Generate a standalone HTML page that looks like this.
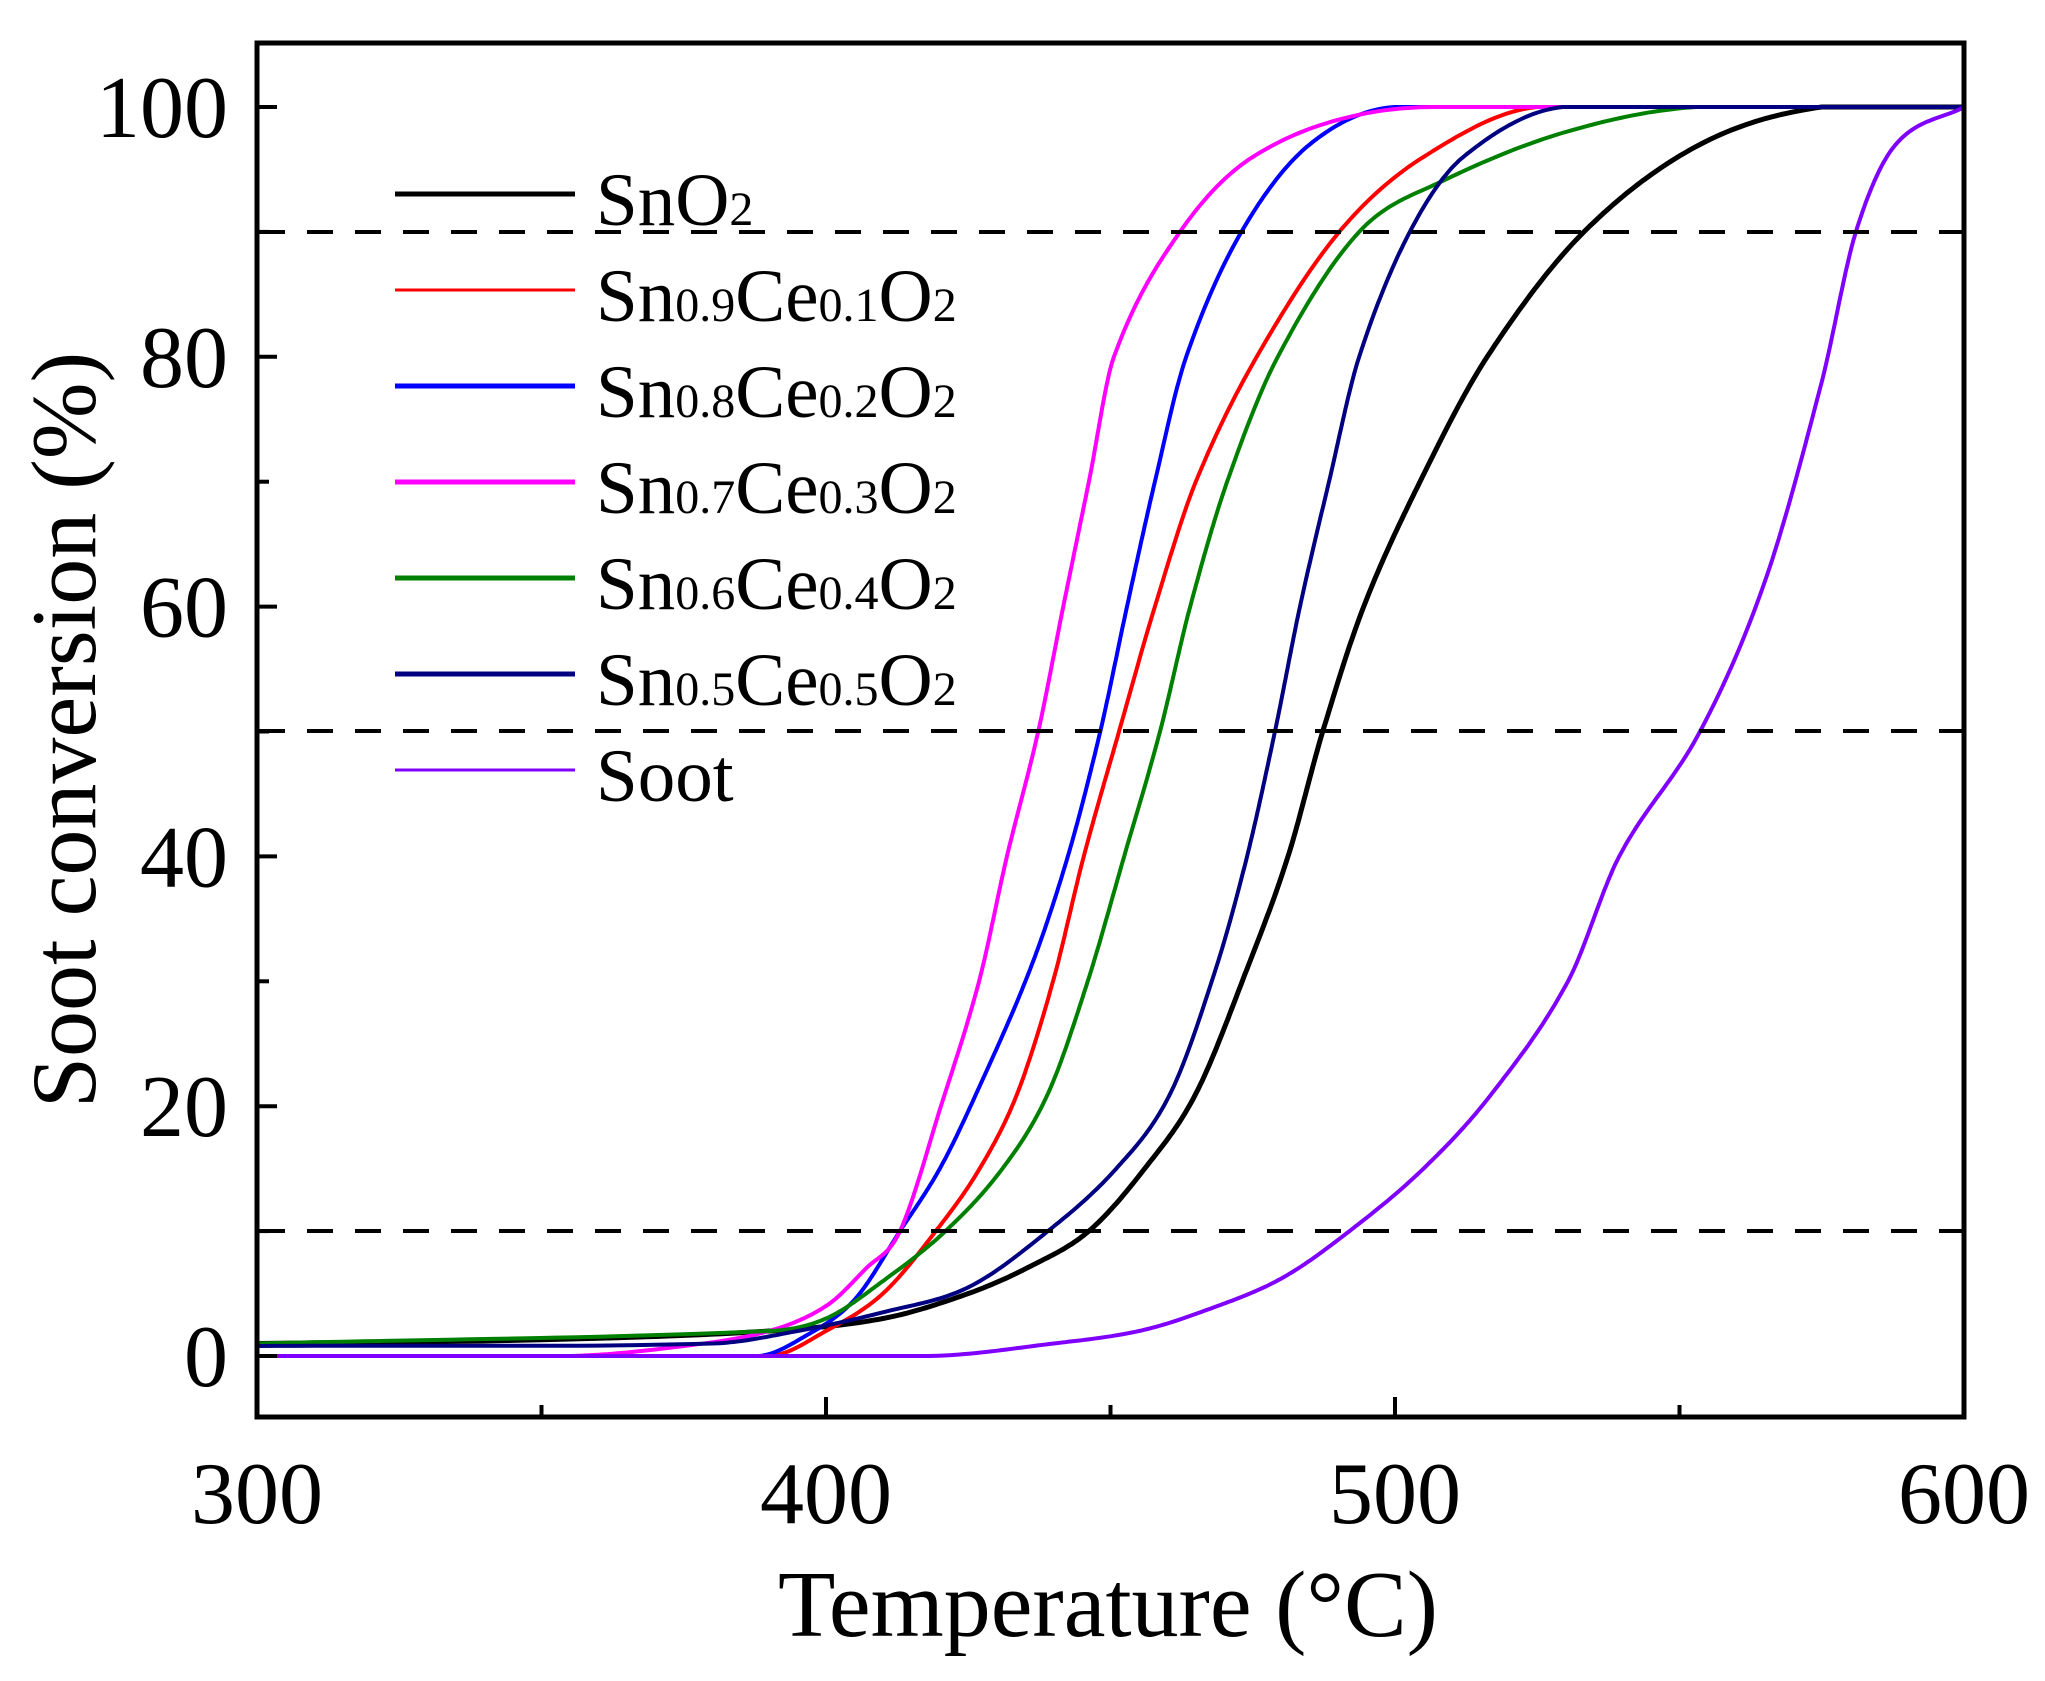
<!DOCTYPE html>
<html><head><meta charset="utf-8"><style>
html,body{margin:0;padding:0;background:#fff;}
svg{display:block;font-family:"Liberation Serif",serif;}
</style></head><body>
<svg id="s" width="2045" height="1681" viewBox="0 0 2045 1681" xmlns="http://www.w3.org/2000/svg">
<g id="curves"></g>
<g stroke="#000" stroke-width="4" stroke-dasharray="26 22" fill="none">
<line x1="259" y1="232" x2="1962" y2="232"/>
<line x1="259" y1="731" x2="1962" y2="731"/>
<line x1="259" y1="1231" x2="1962" y2="1231"/>
</g>
<rect x="257" y="43" width="1707" height="1374" fill="none" stroke="#000" stroke-width="5"/>
<g id="ticks" stroke="#000" stroke-width="4"></g>
<g font-size="88" fill="#000" text-anchor="end" id="ylab"></g>
<g font-size="88" fill="#000" text-anchor="middle" id="xlab"></g>
<text x="1108" y="1636" font-size="94" text-anchor="middle">Temperature (°C)</text>
<text transform="translate(95,730) rotate(-90)" font-size="92" text-anchor="middle">Soot conversion (%)</text>
<g id="leg" font-size="75"></g>
</svg>
<script>
const X=t=>257+(t-300)*1707/300, Y=v=>1356-v*12.49;
const NS="http://www.w3.org/2000/svg";
function el(p,n,a,txt){const e=document.createElementNS(NS,n);for(const k in a)e.setAttribute(k,a[k]);if(txt!=null)e.textContent=txt;p.appendChild(e);return e;}
function sp(pts){const n=pts.length,xs=pts.map(p=>p[0]),ys=pts.map(p=>p[1]);const m=[];
for(let i=0;i<n;i++){const a=Math.max(0,i-1),b=Math.min(n-1,i+1);m[i]=(ys[b]-ys[a])/(xs[b]-xs[a]);}
let s="";let lo=ys[0];
for(let i=0;i<n-1;i++){const h=xs[i+1]-xs[i];for(let k=0;k<=24;k++){const t=k/24,t2=t*t,t3=t2*t;
let v=(2*t3-3*t2+1)*ys[i]+(t3-2*t2+t)*h*m[i]+(-2*t3+3*t2)*ys[i+1]+(t3-t2)*h*m[i+1];
v=Math.max(lo,Math.min(100,v));lo=v;
s+=(s?"L":"M")+X(xs[i]+t*h).toFixed(1)+","+Y(v).toFixed(1);}}return s;}
const series=[
["#000",[[300,1],[350,1.3],[390,2],[410,3],[425,5],[436,7.2],[446.2,10],[456,15],[465,21],[474,31],[481.2,40],[487.3,50],[494.5,60],[504.4,70],[516.2,80],[533.2,90],[553.6,97],[575,100],[600,100]],5],
["#ff0000",[[300,0],[390,0],[400,2],[410,5],[419.3,10],[427,15],[433.6,21],[439.9,30],[445.3,40],[451.5,50],[457.8,60],[465,70],[475.7,80],[490.2,90],[505,96],[525,100],[600,100]],4],
["#0000ff",[[300,0],[388,0],[396,1.5],[405,4.5],[413,10],[420,15],[426.4,21],[435.9,31],[442.5,40],[448.2,50],[452.9,60],[457.8,70],[463.3,80],[473,90],[485,97],[500,100],[600,100]],4],
["#ff00ff",[[300,0],[355,0],[375,0.8],[390,2],[400,4],[407,7],[413,10],[420.2,20],[426.9,30],[431.8,40],[437.3,50],[441.7,60],[446.2,70],[450.6,80],[462.2,90],[475,96],[495,99.5],[520,100],[600,100]],4],
["#008000",[[300,1],[390,2],[400,3],[410,6],[421,10],[431,15],[439,21],[446,30],[452.4,40],[458.7,50],[464,60],[470.5,70],[479.4,80],[493.7,90],[508,94],[530,98],[553,100],[600,100]],4],
["#000080",[[300,0.8],[380,1],[395,2],[410,3.5],[425,5.5],[439,10],[451,15],[460.5,21],[468.5,31],[474,40],[478.9,50],[483.3,60],[488.4,70],[493.7,80],[502.6,90],[512,96],[529.5,100],[600,100]],4],
["#8000ff",[[300,0],[418,0],[440,1],[455,2],[467,3.7],[480,6.2],[492,10],[505,15],[517,21],[530.4,30],[539.4,40],[553.6,50],[565,62],[575,78],[581,90],[588,97],[600,100]],4]];
const cg=document.getElementById("curves");
series.forEach(s=>el(cg,"path",{d:sp(s[1]),stroke:s[0],"stroke-width":s[2],fill:"none","stroke-linejoin":"round"}));
const tg=document.getElementById("ticks");
for(let t=300;t<=600;t+=50){const L=(t%100==0)?20:12;el(tg,"line",{x1:X(t),y1:1417,x2:X(t),y2:1417-L});}
for(let v=0;v<=100;v+=10){const L=(v%20==0)?20:12;el(tg,"line",{x1:257,y1:Y(v),x2:257+L,y2:Y(v)});}
const yl=document.getElementById("ylab");for(let v=0;v<=100;v+=20)el(yl,"text",{x:228,y:Y(v)+30},String(v));
const xl=document.getElementById("xlab");for(let t=300;t<=600;t+=100)el(xl,"text",{x:X(t),y:1523},String(t));
const lg=document.getElementById("leg");
const L=[["#000",5,[["Sn",0],["O",0],["2",1]]],["#ff0000",3,[["Sn",0],["0.9",1],["Ce",0],["0.1",1],["O",0],["2",1]]],
["#0000ff",5,[["Sn",0],["0.8",1],["Ce",0],["0.2",1],["O",0],["2",1]]],["#ff00ff",5,[["Sn",0],["0.7",1],["Ce",0],["0.3",1],["O",0],["2",1]]],
["#008000",5,[["Sn",0],["0.6",1],["Ce",0],["0.4",1],["O",0],["2",1]]],["#000080",5,[["Sn",0],["0.5",1],["Ce",0],["0.5",1],["O",0],["2",1]]],
["#8000ff",3,[["Soot",0]]]];
L.forEach((r,i)=>{const y=194+i*96;el(lg,"line",{x1:395,y1:y,x2:575,y2:y,stroke:r[0],"stroke-width":r[1]});
const t=el(lg,"text",{x:596,y:y+31});r[2].forEach(p=>{el(t,"tspan",p[1]?{"font-size":48}:{},p[0]);});});
</script>
</body></html>
